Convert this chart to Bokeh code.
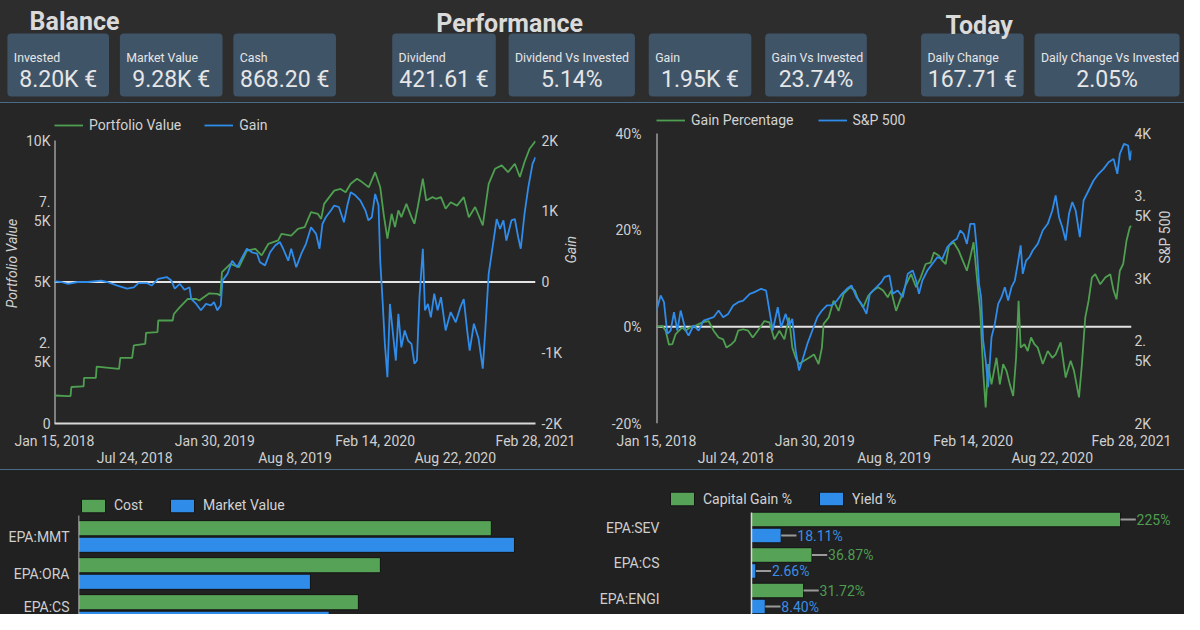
import math
import pandas as pd
from bokeh.plotting import figure
from bokeh.models import Range1d, LinearAxis, FixedTicker, Span, Legend, ColumnDataSource, Spacer
from bokeh.layouts import column, row
from bokeh.embed import file_html
from bokeh.resources import INLINE
from bokeh.core.properties import value
from bokeh.transform import dodge

# ---------------- data ----------------
section_titles = ["Balance", "Performance", "Today"]
card_labels = ["Invested", "Market Value", "Cash", "Dividend", "Dividend Vs Invested",
               "Gain", "Gain Vs Invested", "Daily Change", "Daily Change Vs Invested"]
card_values = ["8.20K €", "9.28K €", "868.20 €", "421.61 €", "5.14%",
               "1.95K €", "23.74%", "167.71 €", "2.05%"]

START = "2018-01-15"   # day offsets below are days since this date
pv_day = [0, 32, 38, 40, 67, 69, 70, 98, 100, 152, 153, 156, 184, 188, 215, 217, 244, 246,
          280, 283, 297, 316, 336, 343, 367, 386, 393, 397, 417, 437, 456, 476, 491, 507, 530, 538,
          561, 577, 593, 608, 624, 632, 639, 663, 678, 690, 702, 717, 729, 745, 760, 772, 780, 789,
          799, 807, 815, 822, 834, 846, 853, 861, 873, 881, 896, 904, 916, 927, 939, 954, 970, 982,
          997, 1015, 1029, 1044, 1060, 1075, 1091, 1103, 1114, 1126, 1140]
pv_val = [990, 970, 970, 1290, 1310, 1310, 1610, 1610, 2010, 1930, 1930, 2320, 2320, 2760, 2810, 3200, 3230, 3640,
          3640, 3870, 4110, 4400, 4400, 4350, 4600, 4580, 4520, 5350, 5640, 5520, 6110, 6170, 5940, 6350, 6470, 6700,
          6640, 6880, 6940, 7470, 7410, 7230, 7760, 8230, 8290, 8170, 8470, 8650, 8530, 8350, 8880, 8350, 7410, 6530,
          7410, 6940, 7530, 7290, 7760, 7290, 7060, 7650, 8650, 7880, 8000, 7940, 8000, 7590, 7820, 7700, 8000, 7290,
          7650, 7000, 8470, 9000, 9120, 8880, 9180, 8710, 9240, 9710, 9980]

gain_day = [0, 16, 32, 55, 79, 110, 125, 149, 172, 188, 199, 219, 230, 246, 266, 277, 285, 297, 308, 320,
            324, 336, 347, 359, 371, 378, 386, 394, 398, 410, 421, 433, 445, 456, 468, 480, 487, 499, 511, 523,
            534, 542, 554, 561, 573, 585, 596, 608, 620, 628, 635, 643, 655, 663, 674, 686, 694, 702, 713, 725,
            737, 744, 752, 760, 768, 772, 778, 783, 789, 795, 803, 809, 815, 822, 830, 838, 846, 853, 859, 865,
            873, 878, 885, 892, 900, 908, 916, 927, 939, 951, 962, 970, 978, 984, 994, 1005, 1015, 1021, 1029, 1036,
            1048, 1056, 1064, 1071, 1083, 1091, 1099, 1105, 1114, 1123, 1133, 1140]
gain_val = [10, 0, -25, 0, 0, 20, 0, -50, -95, -75, -15, -15, -50, 45, 70, 20, -95, -25, -110, -75,
            -240, -310, -400, -310, -330, -285, -400, -330, 20, 115, 300, 210, 350, 470, 420, 400, 280, 235, 420, 515,
            565, 470, 300, 470, 210, 400, 540, 775, 680, 470, 820, 915, 1010, 1080, 1060, 845, 1080, 1270, 1225, 1150,
            1010, 870, 915, 1245, 1080, 300, -310, -875, -1345, -310, -780, -1110, -450, -925, -685, -830, -875, -1155, -1110, -215,
            470, -400, -310, -500, -165, -400, -215, -685, -425, -570, -355, -240, -685, -970, -590, -800, -1225, -685, 115, 400,
            890, 750, 870, 585, 870, 890, 630, 470, 965, 1340, 1670, 1765]

gp_day = [0, 14, 22, 30, 38, 46, 54, 62, 70, 81, 93, 109, 125, 137, 149, 160, 168, 180, 188, 196,
          208, 220, 231, 243, 259, 271, 283, 295, 307, 318, 326, 334, 342, 354, 366, 378, 389, 397, 401, 413,
          425, 437, 449, 465, 476, 484, 496, 508, 520, 532, 544, 555, 563, 575, 587, 599, 611, 623, 634, 646,
          658, 666, 678, 686, 694, 702, 713, 725, 737, 745, 753, 761, 769, 777, 784, 790, 796, 804, 816, 824,
          832, 840, 848, 856, 863, 869, 874, 883, 891, 899, 907, 915, 927, 939, 950, 958, 970, 982, 994, 1002,
          1014, 1021, 1029, 1037, 1045, 1053, 1065, 1077, 1089, 1097, 1104, 1112, 1120, 1128, 1136, 1140]
gp_val = [0.0, 0.2, -0.8, -3.7, -3.6, -1.5, -0.8, -0.1, -0.8, -0.1, 0.2, 0.9, 1.2, -0.8, -2.2, -2.6, -4.3, -3.6, -2.9, -0.8,
          -0.5, -0.8, -2.2, -0.8, 1.2, 0.9, -2.6, -0.8, -2.6, 1.9, -4.3, -6.4, -7.7, -7.0, -6.4, -5.7, -7.7, -4.3, 0.6, 1.9,
          5.4, 3.3, 6.8, 8.2, 7.5, 5.7, 4.0, 6.4, 7.5, 8.2, 7.5, 6.1, 7.5, 3.3, 6.1, 8.8, 10.9, 8.2, 10.2, 13.0,
          13.3, 15.4, 14.7, 13.7, 13.0, 16.8, 17.5, 15.8, 13.3, 11.6, 14.4, 17.5, 10.2, 3.3, -9.1, -16.7, -7.7, -11.9, -6.4, -11.9,
          -7.7, -9.1, -11.9, -14.3, -6.4, 5.4, -4.3, -3.6, -5.0, -2.2, -3.6, -4.3, -7.7, -5.0, -6.4, -5.7, -3.2, -10.5, -7.0, -9.1,
          -14.6, -7.7, 1.9, 5.4, 10.2, 10.9, 8.8, 10.2, 10.9, 7.5, 5.7, 11.6, 13.0, 17.8, 20.6, 20.9]

sp_day = [0, 10, 18, 26, 34, 42, 50, 58, 70, 77, 89, 101, 113, 125, 137, 149, 160, 172, 184, 196,
          208, 224, 235, 251, 263, 271, 279, 291, 299, 310, 318, 326, 334, 342, 350, 362, 374, 386, 397, 409,
          421, 433, 445, 457, 468, 480, 492, 504, 512, 528, 540, 547, 559, 567, 579, 591, 603, 615, 623, 630,
          638, 650, 662, 674, 686, 698, 709, 721, 729, 737, 745, 753, 763, 769, 774, 779, 784, 790, 796, 804,
          812, 820, 828, 836, 844, 852, 860, 867, 874, 879, 887, 895, 903, 915, 927, 939, 950, 958, 966, 974,
          982, 990, 998, 1006, 1016, 1025, 1037, 1049, 1061, 1073, 1085, 1097, 1106, 1112, 1122, 1132, 1136, 1140]
sp_val = [2779, 2883, 2837, 2618, 2641, 2768, 2641, 2779, 2641, 2607, 2676, 2641, 2710, 2722, 2733, 2779, 2733, 2756, 2814, 2837,
          2848, 2894, 2906, 2929, 2917, 2779, 2641, 2802, 2664, 2756, 2676, 2722, 2503, 2366, 2435, 2549, 2641, 2733, 2779, 2814,
          2814, 2848, 2894, 2929, 2952, 2871, 2825, 2756, 2894, 2940, 2975, 3009, 3021, 2894, 2917, 2871, 3032, 3055, 2986, 2894,
          2986, 3055, 3101, 3147, 3136, 3216, 3251, 3274, 3331, 3308, 3239, 3377, 3377, 3193, 2963, 2871, 2572, 2435, 2251, 2595,
          2687, 2825, 2871, 2940, 2848, 2940, 2986, 3101, 3228, 3032, 3124, 3147, 3193, 3239, 3331, 3377, 3469, 3573, 3423, 3354,
          3262, 3446, 3527, 3469, 3285, 3538, 3607, 3676, 3722, 3756, 3802, 3825, 3722, 3860, 3929, 3917, 3814, 3883]

END = "2021-02-28"
date_ticks_a = ["2018-01-15", "2019-01-30", "2020-02-14", "2021-02-28"]
date_labels_a = ["Jan 15, 2018", "Jan 30, 2019", "Feb 14, 2020", "Feb 28, 2021"]
date_ticks_b = ["2018-07-24", "2019-08-08", "2020-08-22"]
date_labels_b = ["Jul 24, 2018", "Aug 8, 2019", "Aug 22, 2020"]

pv_ticks = [0, 2500, 5000, 7500, 10000]
pv_tick_labels = ["0", "2.\n5K", "5K", "7.\n5K", "10K"]
gain_ticks = [-2000, -1000, 0, 1000, 2000]
gain_tick_labels = ["-2K", "-1K", "0", "1K", "2K"]
pct_ticks = [-20, 0, 20, 40]
pct_tick_labels = ["-20%", "0%", "20%", "40%"]
sp_ticks = [2000, 2500, 3000, 3500, 4000]
sp_tick_labels = ["2K", "2.\n5K", "3K", "3.\n5K", "4K"]

holdings = ["EPA:MMT", "EPA:ORA", "EPA:CS"]
cost = [1894, 1385, 1284]
market = [2000, 1064, 1150]

gain_names = ["EPA:SEV", "EPA:CS", "EPA:ENGI"]
cap_gain = [225.0, 36.87, 31.72]
yield_pct = [18.11, 2.66, 8.4]

# ---------------- styles ----------------
FONT = "Roboto"
BG_HEAD = "#2d2d2d"
BG_MID = "#262626"
BG_BOT = "#212121"
SEP_C = "#4b6a88"
CARD_C = "#405468"
CARD_TXT = "#e6e6e6"
TITLE_C = "#dadada"
TICK_C = "#cfcfcf"
AXIS_C = "#d8d8d8"
ZERO_C = "#e4e4e4"
GREEN = "#4e9f50"
BLUE = "#2f8ceb"
GREEN_BAR = "#56a256"
BLUE_BAR = "#2f8de9"
GREEN_TXT = "#4f9c51"
BLUE_TXT = "#3a8ee2"
BAR_EDGE = "#141414"

card_left = [7, 121, 236, 397, 515, 657, 775, 933, 1048]
card_right = [110, 225, 340, 502, 643, 761, 878, 1037, 1195]
title_x = [75, 516, 992]
title_y = [23, 25, 27]

H_HEAD, H_MID, H_BOT = 102, 366, 144


def ms(d):
    return int(pd.Timestamp(d).value // 10**6)


def day_ms(days):
    idx = pd.Timestamp(START) + pd.to_timedelta(days, unit="D")
    return [int(v) // 10**6 for v in idx.asi8]


def ext(lo, hi, frac):
    """extend a range upward so that [lo, hi] fills `frac` of the frame height"""
    return lo + (hi - lo) / frac


def style_axis(ax, line_color=None, size="14px"):
    ax.major_tick_line_color = None
    ax.minor_tick_line_color = None
    ax.major_tick_out = 0
    ax.major_tick_in = 0
    ax.minor_tick_out = 0
    ax.axis_line_color = line_color
    ax.axis_line_width = 2
    ax.major_label_text_font = FONT
    ax.major_label_text_font_size = size
    ax.major_label_text_color = TICK_C
    ax.axis_label_text_font = FONT
    ax.axis_label_text_font_size = "14px"
    ax.axis_label_text_color = TICK_C
    ax.axis_label_text_font_style = "normal"


def style_legend(lg, gw, gh, standoff, spacing):
    lg.orientation = "horizontal"
    lg.background_fill_alpha = 0
    lg.border_line_alpha = 0
    lg.padding = 0
    lg.margin = 0
    lg.spacing = spacing
    lg.glyph_width = gw
    lg.glyph_height = gh
    lg.label_standoff = standoff
    lg.label_text_font = FONT
    lg.label_text_font_size = "14px"
    lg.label_text_color = "#d2d2d2"
    lg.label_height = 20


def base_fig(w, h, bg, **kw):
    return figure(width=w, height=h, output_backend="svg", toolbar_location=None,
                  x_axis_type=None, y_axis_type=None, background_fill_color=None,
                  border_fill_color=None, outline_line_color=None,
                  styles={"background-color": bg}, **kw)


def date_axes(p, line_color):
    ta = [ms(d) for d in date_ticks_a]
    tb = [ms(d) for d in date_ticks_b]
    xa = LinearAxis(ticker=FixedTicker(ticks=ta, minor_ticks=[]),
                    major_label_overrides=dict(zip(ta, date_labels_a)))
    style_axis(xa, line_color)
    xa.major_label_standoff = 9
    p.add_layout(xa, "below")
    xb = LinearAxis(ticker=FixedTicker(ticks=tb, minor_ticks=[]),
                    major_label_overrides=dict(zip(tb, date_labels_b)))
    style_axis(xb, None)
    xb.major_label_standoff = -2
    p.add_layout(xb, "below")


# ---------------- header ----------------
ph = base_fig(1184, H_HEAD, BG_HEAD, x_range=Range1d(0, 1200), y_range=Range1d(104, 2), min_border=0)
ph.quad(left=card_left, right=card_right, top=[35] * len(card_left), bottom=[98] * len(card_left),
        fill_color=CARD_C, line_color=None, border_radius=4)
ph.text(x=title_x, y=title_y, text=section_titles, text_font=value(FONT), text_font_style="bold",
        text_font_size="25px", text_color=TITLE_C, text_align="center", text_baseline="alphabetic")
ph.text(x=[l + 6.5 for l in card_left], y=[59.5] * len(card_left), text=card_labels,
        text_font=value(FONT), text_font_size="12.3px", text_color=CARD_TXT,
        text_align="left", text_baseline="alphabetic")
ph.text(x=[(l + r) / 2 for l, r in zip(card_left, card_right)], y=[81] * len(card_left), text=card_values,
        text_font=value(FONT), text_font_size="23px", text_color=CARD_TXT,
        text_align="center", text_baseline="alphabetic")


def sep():
    return Spacer(width=1184, height=1, styles={"background-color": SEP_C})


x_rng = (ms(START), ms(END))

# ---------------- left line chart ----------------
# frame spans 0..320 px; data area (0..10K) spans 37..320 px
F1 = (320 - 37) / 320
p1 = base_fig(592, H_MID, BG_MID, x_range=Range1d(*x_rng),
              y_range=Range1d(pv_ticks[0], ext(pv_ticks[0], pv_ticks[-1], F1)),
              min_border_left=48, min_border_right=57, min_border_top=0, min_border_bottom=H_MID - 320)
p1.extra_y_ranges = {"gain": Range1d(gain_ticks[0], ext(gain_ticks[0], gain_ticks[-1], F1))}
ya = LinearAxis(ticker=FixedTicker(ticks=pv_ticks, minor_ticks=[]),
                major_label_overrides=dict(zip(pv_ticks, pv_tick_labels)), axis_label="Portfolio Value")
style_axis(ya, None)
ya.major_label_standoff = 4
ya.axis_label_standoff = 3
ya.axis_label_text_font_style = "italic"
p1.add_layout(ya, "left")
yg = LinearAxis(y_range_name="gain", ticker=FixedTicker(ticks=gain_ticks, minor_ticks=[]),
                major_label_overrides=dict(zip(gain_ticks, gain_tick_labels)), axis_label="Gain")
style_axis(yg, None)
yg.major_label_standoff = 6
yg.axis_label_standoff = 6
yg.axis_label_text_font_style = "italic"
yg.axis_label_orientation = math.pi / 2
p1.add_layout(yg, "right")
date_axes(p1, AXIS_C)
p1.add_layout(Span(location=0, dimension="width", y_range_name="gain", line_color=ZERO_C,
                   line_width=2, level="underlay"))
p1.segment(x0=[x_rng[0]], x1=[x_rng[0]], y0=[pv_ticks[0]], y1=[pv_ticks[-1]], line_color=AXIS_C, line_width=2)
r_pv = p1.line(day_ms(pv_day), pv_val, line_color=GREEN, line_width=1.8)
r_gain = p1.line(day_ms(gain_day), gain_val, line_color=BLUE, line_width=1.8, y_range_name="gain")
lg1 = Legend(items=[("Portfolio Value", [r_pv]), ("Gain", [r_gain])], location=(0, 288))
style_legend(lg1, 29, 20, 6, 23)
p1.add_layout(lg1)

# ---------------- right line chart ----------------
F2 = (320 - 30) / 320
p2 = base_fig(592, H_MID, BG_MID, x_range=Range1d(*x_rng),
              y_range=Range1d(pct_ticks[0], ext(pct_ticks[0], pct_ticks[-1], F2)),
              min_border_left=64, min_border_right=48, min_border_top=0, min_border_bottom=H_MID - 320)
p2.extra_y_ranges = {"sp": Range1d(sp_ticks[0], ext(sp_ticks[0], sp_ticks[-1], F2))}
yp = LinearAxis(ticker=FixedTicker(ticks=pct_ticks, minor_ticks=[]),
                major_label_overrides=dict(zip(pct_ticks, pct_tick_labels)))
style_axis(yp, None)
yp.major_label_standoff = 15
p2.add_layout(yp, "left")
ys = LinearAxis(y_range_name="sp", ticker=FixedTicker(ticks=sp_ticks, minor_ticks=[]),
                major_label_overrides=dict(zip(sp_ticks, sp_tick_labels)), axis_label="S&P 500")
style_axis(ys, None)
ys.major_label_standoff = 3
ys.axis_label_standoff = 11
ys.axis_label_orientation = math.pi / 2
p2.add_layout(ys, "right")
date_axes(p2, None)
p2.add_layout(Span(location=0, dimension="width", line_color=ZERO_C, line_width=2, level="underlay"))
p2.segment(x0=[x_rng[0]], x1=[x_rng[0]], y0=[pct_ticks[0]], y1=[pct_ticks[-1]], line_color=AXIS_C, line_width=2)
r_gp = p2.line(day_ms(gp_day), gp_val, line_color=GREEN, line_width=1.8)
r_sp = p2.line(day_ms(sp_day), sp_val, line_color=BLUE, line_width=1.8, y_range_name="sp")
lg2 = Legend(items=[("Gain Percentage", [r_gp]), ("S&P 500", [r_sp])], location=(0, 293))
style_legend(lg2, 29, 20, 6, 24)
p2.add_layout(lg2)

# ---------------- bottom left: cost vs market value ----------------
ROW_L = 37.0                       # px per category row
BL_FIRST, BL_AXIS_TOP = 66, 45      # px of first category centre / axis-line top from figure top
p3 = base_fig(592, H_BOT, BG_BOT, x_range=Range1d(0, 2303),
              y_range=Range1d((H_BOT - BL_FIRST) / ROW_L, -BL_FIRST / ROW_L),
              min_border_left=78, min_border_right=12, min_border_top=0, min_border_bottom=0)
src3 = ColumnDataSource(dict(idx=list(range(len(holdings))), cost=cost, market=market))
r_cost = p3.hbar(y=dodge("idx", -0.224), left=0, right="cost", height=0.41, source=src3,
                 fill_color=GREEN_BAR, line_color=BAR_EDGE, line_width=1)
r_mkt = p3.hbar(y=dodge("idx", 0.224), left=0, right="market", height=0.41, source=src3,
                fill_color=BLUE_BAR, line_color=BAR_EDGE, line_width=1)
p3.segment(x0=[0], x1=[0], y0=[(BL_AXIS_TOP - BL_FIRST) / ROW_L], y1=[(H_BOT - BL_FIRST) / ROW_L],
           line_color=AXIS_C, line_width=1.5)
t3 = list(range(len(holdings)))
a3 = LinearAxis(ticker=FixedTicker(ticks=t3, minor_ticks=[]), major_label_overrides=dict(zip(t3, holdings)))
style_axis(a3, None)
a3.major_label_standoff = 9
p3.add_layout(a3, "left")
lg3 = Legend(items=[("Cost", [r_cost]), ("Market Value", [r_mkt])], location=(0, H_BOT - 35 - 10))
style_legend(lg3, 30, 17, 6, 24)
p3.add_layout(lg3)

# ---------------- bottom right: capital gain % vs yield % ----------------
ROW_R = 35.5
BR_FIRST, BR_AXIS_TOP = 57, 42
OFF_R = 8.0 / ROW_R
p4 = base_fig(592, H_BOT, BG_BOT, x_range=Range1d(-51.2, 257.9),
              y_range=Range1d((H_BOT - BR_FIRST) / ROW_R, -BR_FIRST / ROW_R),
              min_border_left=75, min_border_right=10, min_border_top=0, min_border_bottom=0)
src4 = ColumnDataSource(dict(
    idx=list(range(len(gain_names))), cap=cap_gain, yld=yield_pct,
    cap_lbl=[(f"{v:.0f}%" if v >= 100 else f"{v:.2f}%") for v in cap_gain],
    yld_lbl=[(f"{v:.0f}%" if v >= 100 else f"{v:.2f}%") for v in yield_pct]))
r_cap = p4.hbar(y=dodge("idx", -OFF_R), left=0, right="cap", height=14.6 / ROW_R, source=src4,
                fill_color=GREEN_BAR, line_color=BAR_EDGE, line_width=1)
r_yld = p4.hbar(y=dodge("idx", OFF_R), left=0, right="yld", height=14.6 / ROW_R, source=src4,
                fill_color=BLUE_BAR, line_color=BAR_EDGE, line_width=1)
for fld, lbl, off, col in (("cap", "cap_lbl", -OFF_R, GREEN_TXT), ("yld", "yld_lbl", OFF_R, BLUE_TXT)):
    p4.segment(x0=fld, x1=dodge(fld, 9.3), y0=dodge("idx", off), y1=dodge("idx", off), source=src4,
               line_color="#9a9a9a", line_width=2)
    p4.text(x=dodge(fld, 9.8), y=dodge("idx", off), text=lbl, source=src4, text_font=value(FONT),
            text_font_size="14px", text_color=col, text_align="left", text_baseline="middle")
p4.segment(x0=[0], x1=[0], y0=[(BR_AXIS_TOP - BR_FIRST) / ROW_R], y1=[(H_BOT - BR_FIRST) / ROW_R],
           line_color=AXIS_C, line_width=1.5)
t4 = list(range(len(gain_names)))
a4 = LinearAxis(ticker=FixedTicker(ticks=t4, minor_ticks=[]), major_label_overrides=dict(zip(t4, gain_names)))
style_axis(a4, None)
a4.major_label_standoff = 8
p4.add_layout(a4, "left")
lg4 = Legend(items=[("Capital Gain %", [r_cap]), ("Yield %", [r_yld])], location=(0, H_BOT - 28.5 - 10))
style_legend(lg4, 30, 17, 6, 24)
p4.add_layout(lg4)

layout = column(ph, sep(), row(p1, p2, styles={"background-color": BG_MID}), sep(),
                row(p3, p4, styles={"background-color": BG_BOT}),
                styles={"background-color": BG_MID})
open("out.html", "w").write(file_html(layout, INLINE))
